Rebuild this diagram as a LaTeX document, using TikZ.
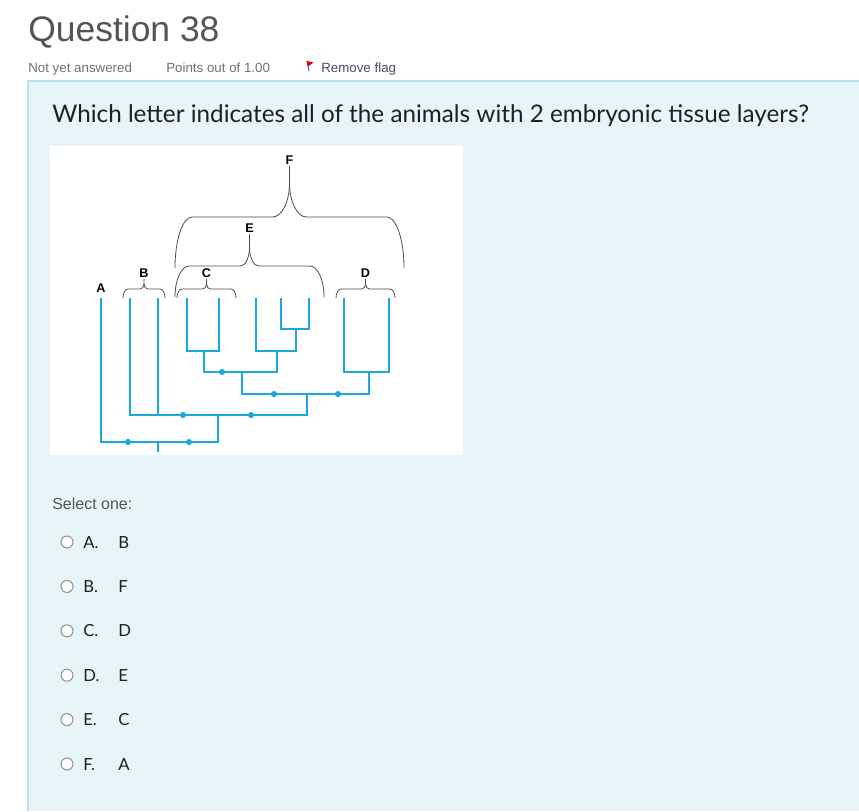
\documentclass[tikz,border=0pt]{standalone}
\usepackage{fontspec}
\setmainfont{Liberation Sans}
\newfontfamily\qfont{Lato}
\usetikzlibrary{calc, positioning}
\definecolor{treeblue}{HTML}{1BA8DC}
\definecolor{panelblue}{HTML}{E7F5F8}
\definecolor{panelline}{HTML}{B9E3EF}
\definecolor{headgray}{HTML}{545454}
\definecolor{metagray}{HTML}{6A737B}
\definecolor{flagtext}{HTML}{4A4A6A}
\definecolor{textnavy}{HTML}{1D2125}
\tikzset{
    cladeline/.style = {treeblue, line width=2pt},
    dotnode/.style = {circle, fill=treeblue, inner sep=0pt, minimum size=4.6pt},
    bracestyle/.style = {draw=black!70, line width=0.6pt},
    cladelabel/.style = {font=\bfseries\fontsize{9.5}{10}\selectfont, inner sep=1pt},
    headtext/.style = {anchor=base west, inner sep=0pt},
    radionode/.style = {circle, draw=gray!85, fill=white, minimum size=9pt, inner sep=0pt, line width=0.8pt},
    optiontext/.style = {anchor=base west, inner sep=0pt, text=textnavy, font=\qfont\fontsize{12.5}{14}\selectfont}
}
% #1 left x, #2 right x, #3 bar y, #4 end y, #5 label, #6 end curve, #7/#8 apex curve width/height
\newcommand{\cladebrace}[8]{%
  \pgfmathsetmacro\bmid{(#1+#2)/2}
  \pgfmathsetmacro\bend{#3+0.45*(#4-#3)}
  \draw[bracestyle] (#1,#4) .. controls (#1,\bend) and ({#1+0.45*#6},#3) .. ({#1+#6},#3) -- ({\bmid-#7},#3)
      .. controls ({\bmid-0.45*#7},#3) and (\bmid,{#3-0.45*#8}) .. (\bmid,{#3-#8}) -- (\bmid,{#3-#8} |- #5.south);
  \draw[bracestyle] (#2,#4) .. controls (#2,\bend) and ({#2-0.45*#6},#3) .. ({#2-#6},#3) -- ({\bmid+#7},#3)
      .. controls ({\bmid+0.45*#7},#3) and (\bmid,{#3-0.45*#8}) .. (\bmid,{#3-#8});
}

\begin{document}
\begin{tikzpicture}[x=0.75pt, y=-0.75pt]
\useasboundingbox (0,0) rectangle (859,811);
\fill[white] (0,0) rectangle (859,811);

% question panel
\fill[panelblue] (28,81) rectangle (859,811);
\draw[panelline, line width=0.8pt] (28,811) -- (28,81) -- (859,81);

% header
\node[headtext, text=headgray, font=\fontsize{26.6}{30}\selectfont] (title) at (28,41) {Question 38};
\node[headtext, text=metagray, font=\fontsize{10}{12}\selectfont] (status) at (28,72) {Not yet answered};
\node[headtext, text=metagray, font=\fontsize{10}{12}\selectfont] (points) at (166,72) {Points out of 1.00};
\node[headtext, text=flagtext, font=\fontsize{10}{12}\selectfont] (flag) at (321,72) {Remove flag};
\draw[gray!60!black, line width=0.6pt] (307,61) -- (309,71);
\fill[red!90!black] (306.5,61) -- (313.5,62.5) -- (308,66.5) -- cycle;

\node[headtext, text=textnavy, font=\qfont\fontsize{18.2}{22}\selectfont] (question) at (52,122)
    {Which letter indicates all of the animals with 2 embryonic tissue layers?};

% tree picture
\fill[white] (50,146) rectangle (463,455);

\coordinate (lA) at (101,298);
\coordinate (lB1) at (130,298);
\coordinate (lB2) at (158,298);
\coordinate (lC1) at (187,298);
\coordinate (lC2) at (219,298);
\coordinate (lE1) at (256,298);
\coordinate (lE2) at (281,298);
\coordinate (lE3) at (309,298);
\coordinate (lD1) at (344,298);
\coordinate (lD2) at (389,298);

\coordinate (jC) at (204,351);
\coordinate (jE2) at (296,329);
\coordinate (jE) at (277,351);
\coordinate (jCE) at (242,372);
\coordinate (jD) at (369,372);
\coordinate (jF) at (307,394);
\coordinate (jB) at (218,415);
\coordinate (jA) at (158,442);
\coordinate (root) at (158,452);

\draw[cladeline] (lC1) |- (jC) -| (lC2);
\draw[cladeline] (lE2) |- (jE2) -| (lE3);
\draw[cladeline] (lE1) |- (jE) -| (jE2);
\draw[cladeline] (jC) |- (jCE) -| (jE);
\draw[cladeline] (lD1) |- (jD) -| (lD2);
\draw[cladeline] (jCE) |- (jF) -| (jD);
\draw[cladeline] (lB1) |- (jB) -| (jF);
\draw[cladeline] (lB2) -- (lB2 |- jB);
\draw[cladeline] (lA) |- (jA) -| (jB);
\draw[cladeline] (jA) -- (root);

\node[dotnode] (d1) at (222,372) {};
\node[dotnode] (d2) at (274,394) {};
\node[dotnode] (d3) at (338,394) {};
\node[dotnode] (d4) at (183,415) {};
\node[dotnode] (d5) at (251,415) {};
\node[dotnode] (d6) at (128,442) {};
\node[dotnode] (d7) at (189,442) {};

% group labels and braces
\node[cladelabel] (labA) at (101,288) {A};
\node[cladelabel] (labB) at (144,273) {B};
\node[cladelabel] (labC) at (206.5,273) {C};
\node[cladelabel] (labD) at (365.5,273) {D};
\node[cladelabel] (labE) at (249.5,228) {E};
\node[cladelabel] (labF) at (289.5,160) {F};

\cladebrace{123}{165}{289}{298}{labB}{5}{4}{5}
\cladebrace{177}{236}{289}{298}{labC}{5}{4}{5}
\cladebrace{336}{395}{289}{298}{labD}{5}{4}{5}
\cladebrace{175}{324}{266}{297}{labE}{14}{9}{19}
\cladebrace{175}{404}{217}{268}{labF}{17}{17}{34}

% answers
\node[headtext, text=headgray, font=\fontsize{12}{14}\selectfont] (select) at (52,509) {Select one:};
\foreach \lt/\ans [count=\i] in {A/B, B/F, C/D, D/E, E/C, F/A} {
  \pgfmathsetmacro\yy{548+(\i-1)*44.4}
  \node[radionode] (rad\i) at (67,{\yy-6}) {};
  \node[optiontext] (opt\i) at (83,\yy) {\lt.};
  \node[optiontext] (ans\i) at (118,\yy) {\ans};
}
\end{tikzpicture}
\end{document}
